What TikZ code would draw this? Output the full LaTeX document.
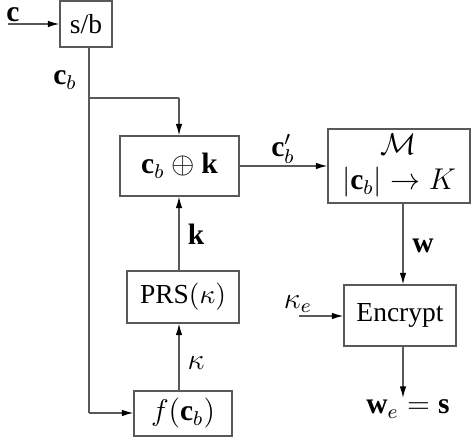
\documentclass[tikz,border=0pt]{standalone}
\usepackage{fontspec}
\setmainfont{Liberation Serif}
\usetikzlibrary{arrows.meta}
\begin{document}
\begin{tikzpicture}[x=0.4pt,y=-0.4pt,
  every node/.style={font=\fontsize{11}{13.5}\selectfont},
  mth/.style={font=\fontsize{11.8}{14}\selectfont},
  blk/.style={draw=black!65, line width=0.5pt, inner sep=0pt, align=center},
  conn/.style={draw=black!65, line width=0.5pt},
  arr/.style={conn, -{Latex[length=4.6pt,width=2.6pt,black]}},
  lbl/.style={inner sep=0pt, mth}]
\useasboundingbox (0,0) rectangle (474,437);
% blocks
\node[blk, minimum width=52*0.4pt, minimum height=46*0.4pt] (sb) at (86,24) {s/b};
\node[blk, mth, minimum width=119*0.4pt, minimum height=60*0.4pt] (xor) at (179.5,166) {$\mathbf{c}_b\oplus\mathbf{k}$};
\node[blk, mth, minimum width=142*0.4pt, minimum height=74*0.4pt] (M) at (399,166) {$\mathcal{M}$\\[0pt]$|\mathbf{c}_b|\rightarrow K$};
\node[blk, minimum width=112*0.4pt, minimum height=61*0.4pt] (enc) at (400,315.5) {Encrypt};
\node[blk, minimum width=112*0.4pt, minimum height=52*0.4pt] (prs) at (183,297) {PRS$(\kappa)$};
\node[blk, mth, minimum width=98*0.4pt, minimum height=45*0.4pt] (f) at (183,413.5) {$f(\mathbf{c}_b)$};
% coordinates
\coordinate (cin) at (8,24);
\coordinate (j1) at (89,98);
\coordinate (j2) at (179,98);
\coordinate (j3) at (89,413);
\coordinate (kin) at (299,316);
\coordinate (wout) at (403,398);
% labels
\node[lbl] (lc) at (13,15) {$\mathbf{c}$};
\node[lbl] (lcb) at (65,80) {$\mathbf{c}_b$};
\node[lbl] (lcbp) at (283,149) {$\mathbf{c}_b'$};
\node[lbl] (lk) at (196,234) {$\mathbf{k}$};
\node[lbl] (lw) at (423,246) {$\mathbf{w}$};
\node[lbl] (lke) at (298,304) {$\kappa_e$};
\node[lbl] (lkap) at (196,363) {$\kappa$};
\node[lbl] (lwe) at (408,409) {$\mathbf{w}_e=\mathbf{s}$};
% connectors
\draw[arr] (cin) -- (sb.west);
\draw[conn] (sb.south -| j1) -- (j3);
\draw[arr] (j3) -- (f.west |- j3);
\draw[conn] (j1) -- (j2);
\draw[arr] (j2) -- (xor.north -| j2);
\draw[arr] (xor.east) -- (M.west);
\draw[arr] (prs.north -| j2) -- (xor.south -| j2);
\draw[arr] (f.north -| j2) -- (prs.south -| j2);
\draw[arr] (M.south -| wout) -- (enc.north -| wout);
\draw[arr] (kin) -- (enc.west |- kin);
\draw[arr] (enc.south -| wout) -- (wout);
\end{tikzpicture}
\end{document}
